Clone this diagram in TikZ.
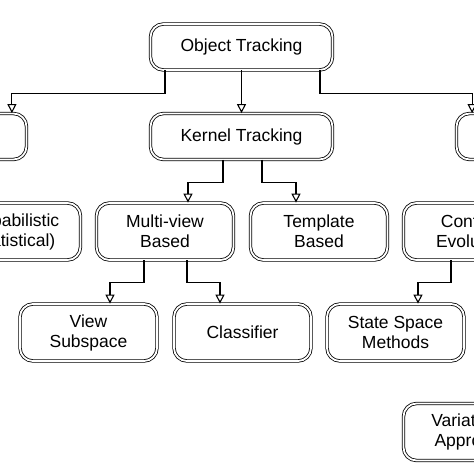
\documentclass[tikz,border=0pt]{standalone}
\usepackage{fontspec}
\setmainfont{Liberation Sans}
\usepackage{tikz}
\usetikzlibrary{calc}
\usetikzlibrary{arrows.meta}
\usetikzlibrary{positioning}

\tikzset{
	box/.style={draw=black, double=white, double distance=1.8pt, line width=0.8pt,
		rounded corners=13pt, minimum width=182pt, minimum height=46pt,
		align=center, inner sep=0pt, font=\fontsize{17.5}{20}\selectfont},
	leaf/.style={box, minimum width=137pt, minimum height=57pt},
	arr/.style={-{Triangle[open, length=9pt, width=9pt]}, line width=1.1pt},
}

\begin{document}
\begin{tikzpicture}[x=1pt, y=-1pt]
	\useasboundingbox (0,0) rectangle (474,474);
	\clip (0,0) rectangle (474,474);

	% top levels
	\node[box] (OT) at (241.5,47) {Object Tracking};
	\node[box] (KT) at (241.5,136.5) {Kernel Tracking};
	\node[box] (PT) at (-64.5,136.5) { };
	\node[box] (ST) at (547.5,136.5) { };

	% second row
	\node[leaf] (PROB) at (12,231.5) {Probabilistic\\(Statistical)};
	\node[leaf] (MV) at (165,231.5) {Multi-view\\Based};
	\node[leaf] (TB) at (319,231.5) {Template\\Based};
	\node[leaf] (CE) at (472,231.5) {Contour\\Evolution};

	% third row
	\node[leaf] (VS) at (88.5,332.5) {View\\Subspace};
	\node[leaf] (CL) at (242.5,332.5) {Classifier};
	\node[leaf] (SSM) at (395.5,332.5) {State Space\\Methods};
	\node[leaf] (VA) at (472,432) {Variational\\Approach};

	\draw[arr] ([xshift=-76.5]OT.south) -- ++(0,23) -| ([xshift=-15]PT.north east);
	\draw[arr] (OT.south) -- (KT.north);
	\draw[arr] ([xshift=78.5]OT.south) -- ++(0,23) -| ([xshift=16]ST.north west);

	\draw[arr] ([xshift=-18.5]KT.south) -- ++(0,23) -| ([xshift=23]MV.north);
	\draw[arr] ([xshift=20.5]KT.south) -- ++(0,23) -| ([xshift=-23]TB.north);

	\draw[arr] ([xshift=-21]MV.south) -- ++(0,22) -| ([xshift=21.5]VS.north);
	\draw[arr] ([xshift=22]MV.south) -- ++(0,22) -| ([xshift=-22.5]CL.north);
	\draw[arr] ([xshift=-21]CE.south) -- ++(0,22) -| ([xshift=22.5]SSM.north);

\end{tikzpicture}
\end{document}
